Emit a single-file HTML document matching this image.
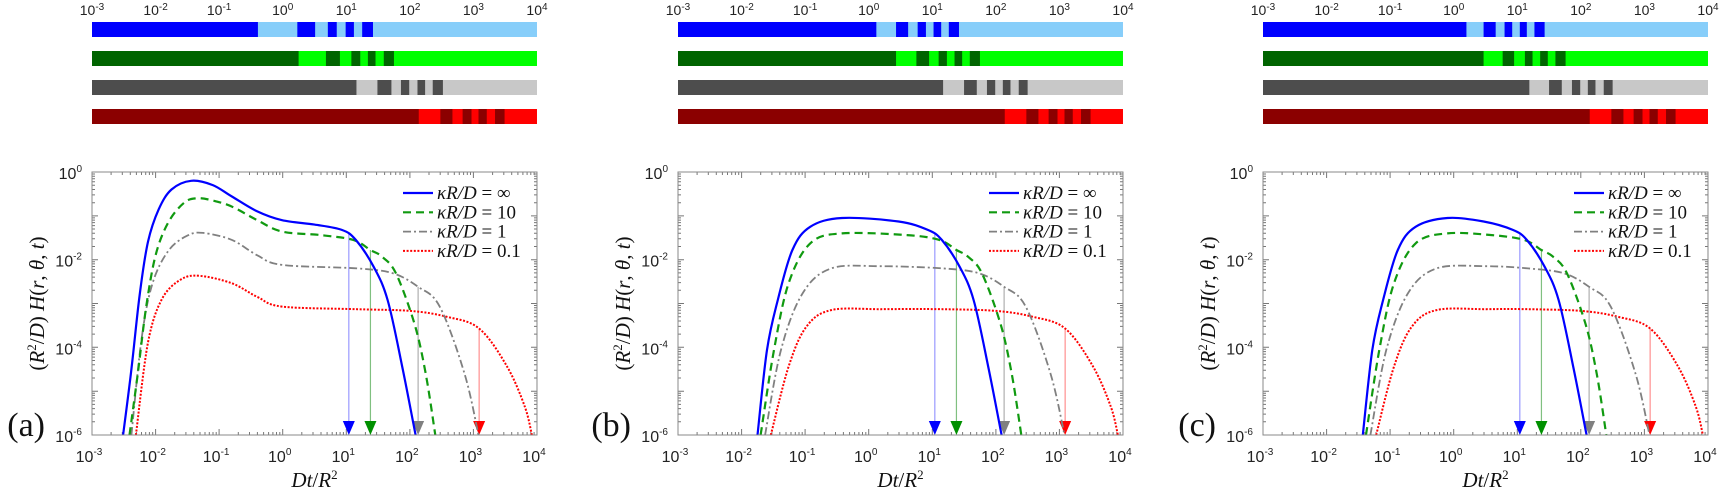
<!DOCTYPE html>
<html><head><meta charset="utf-8">
<style>
html,body{margin:0;padding:0;background:#fff;}
svg{display:block;}
.tk{font-family:"Liberation Sans",sans-serif;font-size:16px;fill:#222;}
.tt{font-family:"Liberation Sans",sans-serif;font-size:14px;fill:#222;}
.sup{font-size:10px;}
.lg{font-family:"Liberation Serif",serif;font-size:19px;font-style:italic;fill:#111;}
.lab{font-family:"Liberation Serif",serif;font-size:21px;fill:#111;}
.pl{font-family:"Liberation Serif",serif;font-size:34px;fill:#111;}
</style></head>
<body>
<svg id="s" width="1720" height="494" viewBox="0 0 1720 494" xmlns="http://www.w3.org/2000/svg"></svg>
<script>
const S=document.getElementById('s');
let h='';
const T=172,B=435,DX=63.57,DY=43.83;
const panels=[92,678,1263];
const lbl=['(a)','(b)','(c)'];
function shiftOn(pts,d){return pts.map(p=>p[0]<0.2?[p[0]+d,p[1]]:p);}
const blueTail=[[0.93,-1.32],[1.15,-1.55],[1.43,-2.16],[1.65,-2.92],[1.88,-4.44],[2.09,-6]];
const greenTail=[[1.38,-1.78],[1.56,-1.93],[1.78,-2.31],[2.07,-3.45],[2.25,-4.6],[2.4,-6]];
const grayTail=[[1.73,-2.31],[2.13,-2.62],[2.47,-3.07],[2.86,-4.6],[3.08,-6]];
const redTail=[[2.01,-3.17],[2.57,-3.3],[3.09,-3.57],[3.53,-4.44],[3.81,-5.36],[3.92,-6]];
const A={
blue:[[-2.51,-6],[-2.38,-4.5],[-2.25,-2.8],[-2.12,-1.6],[-1.95,-0.85],[-1.75,-0.4],[-1.44,-0.2],[-1.1,-0.3],[-0.8,-0.56],[-0.4,-0.9],[-0.01,-1.1],[0.5,-1.2]].concat(blueTail),
green:[[-2.41,-6],[-2.28,-4.6],[-2.15,-3.1],[-2.0,-1.9],[-1.8,-1.15],[-1.55,-0.7],[-1.35,-0.6],[-1.1,-0.65],[-0.8,-0.79],[-0.4,-1.1],[-0.01,-1.36],[0.6,-1.44],[1.11,-1.55]].concat(greenTail),
gray:[[-2.38,-6],[-2.22,-3.8],[-2.05,-2.55],[-1.8,-1.8],[-1.5,-1.45],[-1.25,-1.39],[-0.8,-1.55],[-0.4,-1.9],[-0.01,-2.12],[1.17,-2.2]].concat(grayTail),
red:[[-2.31,-6],[-2.12,-3.9],[-1.9,-2.9],[-1.6,-2.45],[-1.3,-2.37],[-0.8,-2.54],[-0.4,-2.85],[-0.01,-3.07],[1.17,-3.13]].concat(redTail)};
const Bp={
blue:[[-1.75,-6],[-1.6,-4.06],[-1.43,-2.92],[-1.2,-1.78],[-0.92,-1.25],[-0.42,-1.05],[0.47,-1.13]].concat(blueTail),
green:[[-1.7,-6],[-1.49,-4.06],[-1.26,-2.54],[-0.92,-1.63],[-0.42,-1.4],[0.6,-1.44],[1.11,-1.55]].concat(greenTail),
gray:[[-1.63,-6],[-1.38,-4.06],[-1.04,-2.77],[-0.59,-2.2],[0.19,-2.15],[1.17,-2.2]].concat(grayTail),
red:[[-1.54,-6],[-1.26,-4.44],[-0.98,-3.53],[-0.59,-3.15],[0.19,-3.13],[1.17,-3.13]].concat(redTail)};
const C={};for(const k in Bp)C[k]=shiftOn(Bp[k],0.32);
const data=[A,Bp,C];
const sty={blue:'stroke="#0000ff" stroke-width="2.2"',green:'stroke="#109a10" stroke-width="2.2" stroke-dasharray="8,5"',gray:'stroke="#808080" stroke-width="1.8" stroke-dasharray="8,3,2,3"',red:'stroke="#ff0000" stroke-width="2" stroke-dasharray="2,1.6"'};
function path(pts,x0){
 const P=pts.map(p=>[x0+(p[0]+3)*DX,T-p[1]*DY]);
 let d='M'+P[0][0].toFixed(1)+' '+P[0][1].toFixed(1);
 for(let i=0;i<P.length-1;i++){
  const p0=P[Math.max(0,i-1)],p1=P[i],p2=P[i+1],p3=P[Math.min(P.length-1,i+2)];
  const c1=[p1[0]+(p2[0]-p0[0])/6,p1[1]+(p2[1]-p0[1])/6];
  const c2=[p2[0]-(p3[0]-p1[0])/6,p2[1]-(p3[1]-p1[1])/6];
  d+=' C'+c1.map(v=>v.toFixed(1)).join(' ')+' '+c2.map(v=>v.toFixed(1)).join(' ')+' '+p2[0].toFixed(1)+' '+p2[1].toFixed(1);
 }
 return d;
}
const bars=[
 [ {c:['#0000ff','#87cefa'],e:-0.39,s:[[0.23,0.51],[0.71,0.85],[0.99,1.12],[1.25,1.42]]},
   {c:['#006400','#00ff00'],e:0.25,s:[[0.68,0.9],[1.08,1.22],[1.34,1.46],[1.59,1.75]]},
   {c:['#4d4d4d','#c8c8c8'],e:1.16,s:[[1.49,1.71],[1.86,1.99],[2.12,2.24],[2.36,2.52]]},
   {c:['#8b0000','#ff0000'],e:2.14,s:[[2.48,2.67],[2.83,2.97],[3.08,3.21],[3.34,3.49]]}],
 [ {c:['#0000ff','#87cefa'],e:0.12,s:[[0.43,0.62],[0.77,0.9],[1.02,1.14],[1.26,1.42]]},
   {c:['#006400','#00ff00'],e:0.43,s:[[0.75,0.95],[1.1,1.23],[1.35,1.47],[1.59,1.75]]},
   {c:['#4d4d4d','#c8c8c8'],e:1.17,s:[[1.5,1.7],[1.86,1.99],[2.11,2.23],[2.36,2.5]]},
   {c:['#8b0000','#ff0000'],e:2.14,s:[[2.48,2.67],[2.83,2.97],[3.08,3.21],[3.34,3.49]]}],
 [ {c:['#0000ff','#87cefa'],e:0.2,s:[[0.47,0.66],[0.8,0.92],[1.04,1.15],[1.27,1.43]]},
   {c:['#006400','#00ff00'],e:0.47,s:[[0.77,0.95],[1.12,1.24],[1.36,1.48],[1.6,1.76]]},
   {c:['#4d4d4d','#c8c8c8'],e:1.19,s:[[1.5,1.7],[1.86,1.99],[2.11,2.23],[2.36,2.5]]},
   {c:['#8b0000','#ff0000'],e:2.14,s:[[2.48,2.67],[2.83,2.97],[3.08,3.21],[3.34,3.49]]}]];
const rowY=[22,51,80,109];
const exps=['-3','-2','-1','0','1','2','3','4'];
const arrows=[[1.04,-1.4,'#0000ff','#9999ff'],[1.38,-1.78,'#009000','#80c080'],[2.13,-2.62,'#808080','#b0b0b0'],[3.09,-3.57,'#ff0000','#ff9090']];
panels.forEach((x0,pi)=>{
 const X=L=>x0+(L+3)*DX, W=7*DX;
 bars[pi].forEach((b,ri)=>{
  const y=rowY[ri];
  h+=`<rect x="${x0}" y="${y}" width="${W}" height="15" fill="${b.c[1]}"/>`;
  h+=`<rect x="${x0}" y="${y}" width="${X(b.e)-x0}" height="15" fill="${b.c[0]}"/>`;
  b.s.forEach(s=>{h+=`<rect x="${X(s[0])}" y="${y}" width="${(s[1]-s[0])*DX}" height="15" fill="${b.c[0]}"/>`;});
 });
 exps.forEach((e,i)=>{h+=`<text class="tt" x="${X(i-3)}" y="15" text-anchor="middle">10<tspan class="sup" dy="-5">${e}</tspan></text>`;});
 h+=`<clipPath id="cp${pi}"><rect x="${x0}" y="${T}" width="${W}" height="${B-T}"/></clipPath>`;
 let tk='';
 for(let d=-3;d<4;d++){for(let m=1;m<10;m++){const L=d+Math.log10(m);const x=X(L).toFixed(1);const len=m==1?6:3;
  tk+=`M${x} ${B}v-${len}M${x} ${T}v${len}`;}}
 for(let d=0;d<6;d++){for(let m=1;m<10;m++){const y=(B-d*DY-Math.log10(m)*DY).toFixed(1);const len=m==1?6:3;
  tk+=`M${x0} ${y}h${len}M${x0+W} ${y}h-${len}`;}}
 h+=`<path d="${tk}" stroke="#777" stroke-width="1" fill="none"/>`;
 arrows.forEach(a=>{const x=X(a[0]);h+=`<line x1="${x}" y1="${T-a[1]*DY}" x2="${x}" y2="${B-12}" stroke="${a[3]}" stroke-width="1.2"/>`;
  h+=`<polygon points="${x-6},${B-14} ${x+6},${B-14} ${x},${B}" fill="${a[2]}"/>`;});
 const D=data[pi];
 ['red','gray','green','blue'].forEach(k=>{h+=`<path clip-path="url(#cp${pi})" d="${path(D[k],x0)}" fill="none" ${sty[k]}/>`;});
 h+=`<rect x="${x0}" y="${T}" width="${W}" height="${B-T}" fill="none" stroke="#888" stroke-width="1"/>`;
 exps.forEach((e,i)=>{h+=`<text class="tk" x="${X(i-3)-3}" y="462" text-anchor="middle">10<tspan class="sup" font-size="12" dy="-7">${e}</tspan></text>`;});
 [0,-2,-4,-6].forEach(e=>{const y=T-e*DY;h+=`<text class="tk" x="${x0-10}" y="${y+7}" text-anchor="end">10<tspan class="sup" font-size="12" dy="-7">${e}</tspan></text>`;});
 h+=`<text class="lab" x="${x0+W/2}" y="487" text-anchor="middle"><tspan font-style="italic">Dt</tspan>/<tspan font-style="italic">R</tspan><tspan font-size="13" dy="-8">2</tspan></text>`;
 h+=`<text class="lab" transform="translate(${x0-48},${(T+B)/2}) rotate(-90)" text-anchor="middle">(<tspan font-style="italic">R</tspan><tspan font-size="13" dy="-8">2</tspan><tspan dy="8">/</tspan><tspan font-style="italic">D</tspan>) <tspan font-style="italic">H</tspan>(<tspan font-style="italic">r</tspan>, <tspan font-style="italic">θ</tspan>, <tspan font-style="italic">t</tspan>)</text>`;
 h+=`<text class="pl" x="${x0-47}" y="436" text-anchor="end">${lbl[pi]}</text>`;
 const lx=x0+311;
 const names=['∞','10','1','0.1'];
 ['blue','green','gray','red'].forEach((k,i)=>{const y=193+i*19.3;
  h+=`<line x1="${lx}" y1="${y}" x2="${lx+30}" y2="${y}" ${sty[k]}/>`;
  h+=`<text class="lg" x="${lx+34}" y="${y+6}">κR/D <tspan font-style="normal">= ${names[i]}</tspan></text>`;});
});
S.innerHTML=h;
</script>
</body></html>
